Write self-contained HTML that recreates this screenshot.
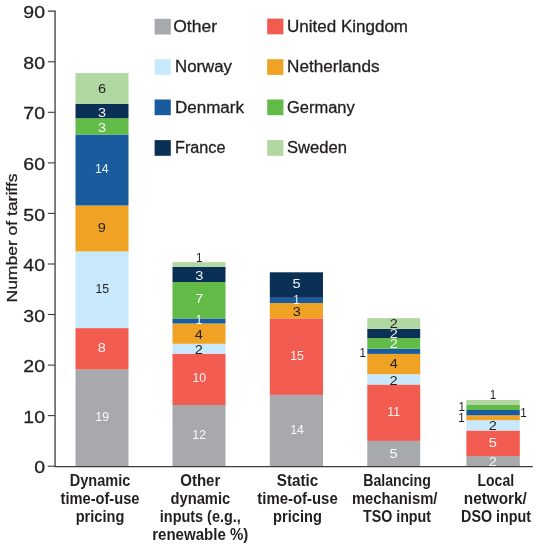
<!DOCTYPE html>
<html lang="en"><head><meta charset="utf-8"><title>Number of tariffs</title>
<style>html,body{margin:0;padding:0;background:#fff}svg{display:block}</style></head>
<body>
<svg width="538" height="550" viewBox="0 0 538 550" font-family="'Liberation Sans', sans-serif">
<rect width="538" height="550" fill="#fff"/>
<rect x="75.5" y="369.5" width="53.0" height="96.7" fill="#a7a9ac"/>
<rect x="75.5" y="328.1" width="53.0" height="41.4" fill="#f15b50"/>
<rect x="75.5" y="251.4" width="53.0" height="76.7" fill="#c7e9fb"/>
<rect x="75.5" y="205.5" width="53.0" height="45.9" fill="#f0a224"/>
<rect x="75.5" y="134.5" width="53.0" height="71.0" fill="#195c9d"/>
<rect x="75.5" y="118.2" width="53.0" height="16.3" fill="#62bb46"/>
<rect x="75.5" y="103.9" width="53.0" height="14.3" fill="#0a3055"/>
<rect x="75.5" y="73.1" width="53.0" height="30.8" fill="#b1d8a0"/>
<rect x="172.5" y="405.0" width="53.0" height="61.2" fill="#a7a9ac"/>
<rect x="172.5" y="353.7" width="53.0" height="51.3" fill="#f15b50"/>
<rect x="172.5" y="343.8" width="53.0" height="9.9" fill="#c7e9fb"/>
<rect x="172.5" y="323.5" width="53.0" height="20.3" fill="#f0a224"/>
<rect x="172.5" y="318.5" width="53.0" height="5.0" fill="#195c9d"/>
<rect x="172.5" y="282.1" width="53.0" height="36.4" fill="#62bb46"/>
<rect x="172.5" y="266.8" width="53.0" height="15.3" fill="#0a3055"/>
<rect x="172.5" y="262.2" width="53.0" height="4.6" fill="#b1d8a0"/>
<rect x="269.8" y="394.9" width="53.2" height="71.3" fill="#a7a9ac"/>
<rect x="269.8" y="318.4" width="53.2" height="76.5" fill="#f15b50"/>
<rect x="269.8" y="303.0" width="53.2" height="15.4" fill="#f0a224"/>
<rect x="269.8" y="297.8" width="53.2" height="5.2" fill="#195c9d"/>
<rect x="269.8" y="272.3" width="53.2" height="25.5" fill="#0a3055"/>
<rect x="367.3" y="440.9" width="52.9" height="25.3" fill="#a7a9ac"/>
<rect x="367.3" y="384.5" width="52.9" height="56.4" fill="#f15b50"/>
<rect x="367.3" y="374.2" width="52.9" height="10.3" fill="#c7e9fb"/>
<rect x="367.3" y="353.9" width="52.9" height="20.3" fill="#f0a224"/>
<rect x="367.3" y="348.7" width="52.9" height="5.2" fill="#195c9d"/>
<rect x="367.3" y="338.1" width="52.9" height="10.6" fill="#62bb46"/>
<rect x="367.3" y="328.8" width="52.9" height="9.3" fill="#0a3055"/>
<rect x="367.3" y="318.2" width="52.9" height="10.6" fill="#b1d8a0"/>
<rect x="466.4" y="456.1" width="53.4" height="10.1" fill="#a7a9ac"/>
<rect x="466.4" y="430.5" width="53.4" height="25.6" fill="#f15b50"/>
<rect x="466.4" y="420.2" width="53.4" height="10.3" fill="#c7e9fb"/>
<rect x="466.4" y="415.3" width="53.4" height="4.9" fill="#f0a224"/>
<rect x="466.4" y="410.0" width="53.4" height="5.3" fill="#195c9d"/>
<rect x="466.4" y="405.0" width="53.4" height="5.0" fill="#62bb46"/>
<rect x="466.4" y="400.0" width="53.4" height="5.0" fill="#b1d8a0"/>
<text transform="translate(102.2 421.0) scale(0.95 1)" font-size="13" fill="#fff" fill-opacity="0.92" text-anchor="middle">19</text>
<text transform="translate(101.9 351.8) scale(1.12 1)" font-size="13" fill="#fff" fill-opacity="0.92" text-anchor="middle">8</text>
<text transform="translate(102.3 293.2) scale(0.95 1)" font-size="13" fill="#231f20" text-anchor="middle">15</text>
<text transform="translate(101.9 231.8) scale(1.12 1)" font-size="13" fill="#231f20" text-anchor="middle">9</text>
<text transform="translate(101.8 173.1) scale(0.95 1)" font-size="13" fill="#fff" fill-opacity="0.92" text-anchor="middle">14</text>
<text transform="translate(102.0 131.8) scale(1.12 1)" font-size="13" fill="#fff" fill-opacity="0.92" text-anchor="middle">3</text>
<text transform="translate(102.0 116.6) scale(1.12 1)" font-size="13" fill="#fff" fill-opacity="0.92" text-anchor="middle">3</text>
<text transform="translate(102.0 92.8) scale(1.12 1)" font-size="13" fill="#231f20" text-anchor="middle">6</text>
<text transform="translate(199.2 438.5) scale(0.95 1)" font-size="13" fill="#fff" fill-opacity="0.92" text-anchor="middle">12</text>
<text transform="translate(199.3 382.4) scale(0.95 1)" font-size="13" fill="#fff" fill-opacity="0.92" text-anchor="middle">10</text>
<text transform="translate(198.9 354.0) scale(1.12 1)" font-size="13" fill="#231f20" text-anchor="middle">2</text>
<text transform="translate(198.9 338.8) scale(1.12 1)" font-size="13" fill="#231f20" text-anchor="middle">4</text>
<text transform="translate(199.0 323.8) scale(0.9 1)" font-size="13" fill="#fff" fill-opacity="0.92" text-anchor="middle">1</text>
<text transform="translate(199.2 303.4) scale(1.12 1)" font-size="13" fill="#fff" fill-opacity="0.92" text-anchor="middle">7</text>
<text transform="translate(199.2 280.1) scale(1.12 1)" font-size="13" fill="#fff" fill-opacity="0.92" text-anchor="middle">3</text>
<text transform="translate(199.3 261.6) scale(0.9 1)" font-size="13" fill="#231f20" text-anchor="middle">1</text>
<text transform="translate(297.1 433.9) scale(0.95 1)" font-size="13" fill="#fff" fill-opacity="0.92" text-anchor="middle">14</text>
<text transform="translate(297.1 360.1) scale(0.95 1)" font-size="13" fill="#fff" fill-opacity="0.92" text-anchor="middle">15</text>
<text transform="translate(296.8 315.6) scale(1.12 1)" font-size="13" fill="#231f20" text-anchor="middle">3</text>
<text transform="translate(296.5 303.9) scale(0.9 1)" font-size="13" fill="#fff" fill-opacity="0.92" text-anchor="middle">1</text>
<text transform="translate(296.5 288.4) scale(1.12 1)" font-size="13" fill="#fff" fill-opacity="0.92" text-anchor="middle">5</text>
<text transform="translate(393.6 457.9) scale(1.12 1)" font-size="13" fill="#fff" fill-opacity="0.92" text-anchor="middle">5</text>
<text transform="translate(393.6 415.5) scale(0.95 1)" font-size="13" fill="#fff" fill-opacity="0.92" text-anchor="middle">11</text>
<text transform="translate(393.6 384.6) scale(1.12 1)" font-size="13" fill="#231f20" text-anchor="middle">2</text>
<text transform="translate(393.9 368.2) scale(1.12 1)" font-size="13" fill="#231f20" text-anchor="middle">4</text>
<text transform="translate(362.7 356.6) scale(0.9 1)" font-size="13" fill="#231f20" text-anchor="middle">1</text>
<text transform="translate(393.9 348.3) scale(1.12 1)" font-size="13" fill="#fff" fill-opacity="0.92" text-anchor="middle">2</text>
<text transform="translate(393.9 337.6) scale(1.12 1)" font-size="13" fill="#fff" fill-opacity="0.92" text-anchor="middle">2</text>
<text transform="translate(393.9 327.8) scale(1.12 1)" font-size="13" fill="#231f20" text-anchor="middle">2</text>
<text transform="translate(492.9 466.1) scale(1.12 1)" font-size="13" fill="#fff" fill-opacity="0.92" text-anchor="middle">2</text>
<text transform="translate(492.9 447.0) scale(1.12 1)" font-size="13" fill="#fff" fill-opacity="0.92" text-anchor="middle">5</text>
<text transform="translate(492.9 430.3) scale(1.12 1)" font-size="13" fill="#231f20" text-anchor="middle">2</text>
<text transform="translate(461.6 422.3) scale(0.9 1)" font-size="13" fill="#231f20" text-anchor="middle">1</text>
<text transform="translate(523.6 416.6) scale(0.9 1)" font-size="13" fill="#231f20" text-anchor="middle">1</text>
<text transform="translate(461.8 410.5) scale(0.9 1)" font-size="13" fill="#231f20" text-anchor="middle">1</text>
<text transform="translate(493.0 399.4) scale(0.9 1)" font-size="13" fill="#231f20" text-anchor="middle">1</text>
<path d="M47.8 11.2H55.05V466.55H532.8" fill="none" stroke="#3b3b3c" stroke-width="1.3"/>
<path d="M47.8 466.2H55" stroke="#3b3b3c" stroke-width="1.1"/>
<path d="M47.8 415.6H55" stroke="#3b3b3c" stroke-width="1.1"/>
<path d="M47.8 365.1H55" stroke="#3b3b3c" stroke-width="1.1"/>
<path d="M47.8 314.5H55" stroke="#3b3b3c" stroke-width="1.1"/>
<path d="M47.8 264.0H55" stroke="#3b3b3c" stroke-width="1.1"/>
<path d="M47.8 213.4H55" stroke="#3b3b3c" stroke-width="1.1"/>
<path d="M47.8 162.9H55" stroke="#3b3b3c" stroke-width="1.1"/>
<path d="M47.8 112.3H55" stroke="#3b3b3c" stroke-width="1.1"/>
<path d="M47.8 61.8H55" stroke="#3b3b3c" stroke-width="1.1"/>
<text transform="translate(45.0 473.3) scale(1.12 1)" font-size="17.4" fill="#231f20" stroke="#231f20" stroke-width="0.3" text-anchor="end">0</text>
<text transform="translate(45.0 422.7) scale(1.12 1)" font-size="17.4" fill="#231f20" stroke="#231f20" stroke-width="0.3" text-anchor="end">10</text>
<text transform="translate(45.0 372.2) scale(1.12 1)" font-size="17.4" fill="#231f20" stroke="#231f20" stroke-width="0.3" text-anchor="end">20</text>
<text transform="translate(45.0 321.6) scale(1.12 1)" font-size="17.4" fill="#231f20" stroke="#231f20" stroke-width="0.3" text-anchor="end">30</text>
<text transform="translate(45.0 271.1) scale(1.12 1)" font-size="17.4" fill="#231f20" stroke="#231f20" stroke-width="0.3" text-anchor="end">40</text>
<text transform="translate(45.0 220.5) scale(1.12 1)" font-size="17.4" fill="#231f20" stroke="#231f20" stroke-width="0.3" text-anchor="end">50</text>
<text transform="translate(45.0 170.0) scale(1.12 1)" font-size="17.4" fill="#231f20" stroke="#231f20" stroke-width="0.3" text-anchor="end">60</text>
<text transform="translate(45.0 119.4) scale(1.12 1)" font-size="17.4" fill="#231f20" stroke="#231f20" stroke-width="0.3" text-anchor="end">70</text>
<text transform="translate(45.0 68.9) scale(1.12 1)" font-size="17.4" fill="#231f20" stroke="#231f20" stroke-width="0.3" text-anchor="end">80</text>
<text transform="translate(45.0 18.3) scale(1.12 1)" font-size="17.4" fill="#231f20" stroke="#231f20" stroke-width="0.3" text-anchor="end">90</text>
<text transform="translate(16.7 302.5) rotate(-90)" font-size="15.5" fill="#231f20" stroke="#231f20" stroke-width="0.3" textLength="129" lengthAdjust="spacingAndGlyphs">Number of tariffs</text>
<rect x="154.6" y="18.8" width="16.2" height="15.7" fill="#a7a9ac"/>
<text x="173.2" y="31.8" font-size="16" fill="#231f20" stroke="#231f20" stroke-width="0.3" textLength="43.8" lengthAdjust="spacingAndGlyphs">Other</text>
<rect x="154.6" y="59.2" width="16.2" height="15.7" fill="#c7e9fb"/>
<text x="175.0" y="72.2" font-size="16" fill="#231f20" stroke="#231f20" stroke-width="0.3" textLength="57.0" lengthAdjust="spacingAndGlyphs">Norway</text>
<rect x="154.6" y="99.5" width="16.2" height="15.7" fill="#195c9d"/>
<text x="175.0" y="112.5" font-size="16" fill="#231f20" stroke="#231f20" stroke-width="0.3" textLength="69.0" lengthAdjust="spacingAndGlyphs">Denmark</text>
<rect x="154.6" y="140.1" width="16.2" height="15.7" fill="#0a3055"/>
<text x="175.0" y="153.1" font-size="16" fill="#231f20" stroke="#231f20" stroke-width="0.3" textLength="50.5" lengthAdjust="spacingAndGlyphs">France</text>
<rect x="267.2" y="18.6" width="16.2" height="15.7" fill="#f15b50"/>
<text x="287.0" y="31.6" font-size="16" fill="#231f20" stroke="#231f20" stroke-width="0.3" textLength="121.0" lengthAdjust="spacingAndGlyphs">United Kingdom</text>
<rect x="267.2" y="59.2" width="16.2" height="15.7" fill="#f0a224"/>
<text x="287.0" y="72.2" font-size="16" fill="#231f20" stroke="#231f20" stroke-width="0.3" textLength="92.5" lengthAdjust="spacingAndGlyphs">Netherlands</text>
<rect x="267.2" y="99.5" width="16.2" height="15.7" fill="#62bb46"/>
<text x="287.0" y="112.5" font-size="16" fill="#231f20" stroke="#231f20" stroke-width="0.3" textLength="67.7" lengthAdjust="spacingAndGlyphs">Germany</text>
<rect x="267.2" y="140.1" width="16.2" height="15.7" fill="#b1d8a0"/>
<text x="287.0" y="153.1" font-size="16" fill="#231f20" stroke="#231f20" stroke-width="0.3" textLength="60.0" lengthAdjust="spacingAndGlyphs">Sweden</text>
<text x="69.8" y="485.9" font-size="15.6" font-weight="bold" fill="#231f20" textLength="60.5" lengthAdjust="spacingAndGlyphs">Dynamic</text>
<text x="60.5" y="504.0" font-size="15.6" font-weight="bold" fill="#231f20" textLength="79.0" lengthAdjust="spacingAndGlyphs">time-of-use</text>
<text x="75.7" y="522.1" font-size="15.6" font-weight="bold" fill="#231f20" textLength="48.6" lengthAdjust="spacingAndGlyphs">pricing</text>
<text x="180.3" y="485.9" font-size="15.6" font-weight="bold" fill="#231f20" textLength="40.0" lengthAdjust="spacingAndGlyphs">Other</text>
<text x="170.5" y="504.0" font-size="15.6" font-weight="bold" fill="#231f20" textLength="59.7" lengthAdjust="spacingAndGlyphs">dynamic</text>
<text x="159.8" y="522.1" font-size="15.6" font-weight="bold" fill="#231f20" textLength="81.0" lengthAdjust="spacingAndGlyphs">inputs (e.g.,</text>
<text x="152.2" y="540.2" font-size="15.6" font-weight="bold" fill="#231f20" textLength="96.2" lengthAdjust="spacingAndGlyphs">renewable %)</text>
<text x="276.8" y="485.9" font-size="15.6" font-weight="bold" fill="#231f20" textLength="41.4" lengthAdjust="spacingAndGlyphs">Static</text>
<text x="257.3" y="504.0" font-size="15.6" font-weight="bold" fill="#231f20" textLength="80.4" lengthAdjust="spacingAndGlyphs">time-of-use</text>
<text x="273.1" y="522.1" font-size="15.6" font-weight="bold" fill="#231f20" textLength="48.8" lengthAdjust="spacingAndGlyphs">pricing</text>
<text x="363.2" y="485.9" font-size="15.6" font-weight="bold" fill="#231f20" textLength="67.6" lengthAdjust="spacingAndGlyphs">Balancing</text>
<text x="351.9" y="504.0" font-size="15.6" font-weight="bold" fill="#231f20" textLength="85.6" lengthAdjust="spacingAndGlyphs">mechanism/</text>
<text x="363.0" y="522.1" font-size="15.6" font-weight="bold" fill="#231f20" textLength="68.0" lengthAdjust="spacingAndGlyphs">TSO input</text>
<text x="477.5" y="485.9" font-size="15.6" font-weight="bold" fill="#231f20" textLength="36.6" lengthAdjust="spacingAndGlyphs">Local</text>
<text x="463.8" y="504.0" font-size="15.6" font-weight="bold" fill="#231f20" textLength="63.0" lengthAdjust="spacingAndGlyphs">network/</text>
<text x="461.1" y="522.1" font-size="15.6" font-weight="bold" fill="#231f20" textLength="70.0" lengthAdjust="spacingAndGlyphs">DSO input</text>
</svg>
</body></html>
